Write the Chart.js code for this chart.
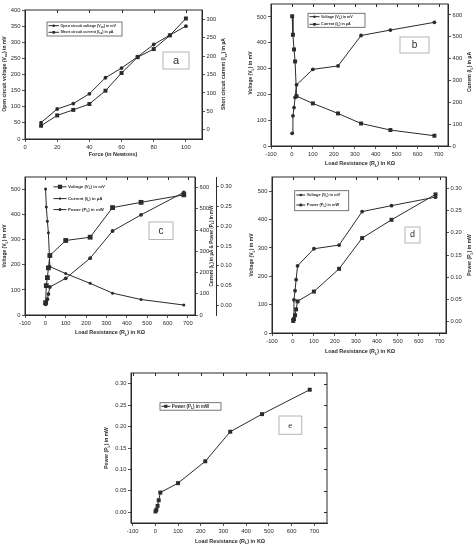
<!DOCTYPE html>
<html>
<head>
<meta charset="utf-8">
<script src="https://cdn.jsdelivr.net/npm/chart.js@4/dist/chart.umd.min.js"></script>
<style>
  html, body { margin: 0; padding: 0; background: #fff; }
  #fig { position: relative; width: 474px; height: 546px; overflow: hidden; background: #fff; }
  #fig canvas { position: absolute; }
</style>
</head>
<body>
<div id="fig"></div>
<script>
/* ---- data ---- */
const FORCE_N = [10, 20, 30, 40, 50, 60, 70, 80, 90, 100];
const VOC_MV = [51, 93, 110, 140, 190, 220, 255, 293, 322, 350];
const ISC_UA = [11, 39, 54, 70, 106, 154, 197, 219, 256, 302];

const LOAD_KOHM = [1, 4.7, 10, 15, 22, 100, 220, 330, 470, 680];
const VL_MV = [49, 117, 149, 188, 237, 297, 310, 428, 449, 479];
const IL_UA = [594, 509, 442, 387, 228, 195, 149, 103, 73, 47];
const PL_MW = [0.002, 0.006, 0.015, 0.028, 0.046, 0.068, 0.119, 0.188, 0.229, 0.286];

/* tick labels */
const FORCE_TICKS = [0, 20, 40, 60, 80, 100];
const VOC_TICKS = [0, 50, 100, 150, 200, 250, 300, 350, 400];
const ISC_TICKS = [0, 50, 100, 150, 200, 250, 300];
const LOAD_TICKS = [-100, 0, 100, 200, 300, 400, 500, 600, 700];
const VL_TICKS = [0, 100, 200, 300, 400, 500];
const IL_TICKS = [0, 100, 200, 300, 400, 500, 600];
const PL_TICKS = [0, 0.05, 0.10, 0.15, 0.20, 0.25, 0.30];

/* ---- helpers ---- */
const INK = '#2b2b2b';
const FONT = '"Liberation Sans", Arial, sans-serif';
const fig = document.getElementById('fig');

const pts = (xs, ys) => xs.map((x, i) => ({ x, y: ys[i] }));

function richParts(s) {
  // "Voltage (V_{L}) in mV" -> plain / subscript pieces
  const out = [];
  const re = /_\{([^}]*)\}/g;
  let last = 0, m;
  while ((m = re.exec(s))) {
    if (m.index > last) out.push({ t: s.slice(last, m.index), sub: false });
    out.push({ t: m[1], sub: true });
    last = re.lastIndex;
  }
  if (last < s.length) out.push({ t: s.slice(last), sub: false });
  return out;
}

function drawRich(ctx, text, x, y, size, o) {
  o = o || {};
  const parts = richParts(text);
  const font = sz => `${o.bold === false ? '' : 'bold '}${sz}px ${o.family || FONT}`;
  let total = 0;
  parts.forEach(p => { ctx.font = font(p.sub ? size * 0.72 : size); p.w = ctx.measureText(p.t).width; total += p.w; });
  ctx.save();
  ctx.translate(x, y);
  ctx.rotate(o.rot || 0);
  ctx.textBaseline = 'middle';
  ctx.textAlign = 'left';
  ctx.fillStyle = INK;
  let cx = o.align === 'left' ? 0 : -total / 2;
  parts.forEach(p => {
    ctx.font = font(p.sub ? size * 0.72 : size);
    ctx.fillText(p.t, cx, p.sub ? size * 0.32 : 0);
    cx += p.w;
  });
  ctx.restore();
}

function drawMark(ctx, style, r, x, y) {
  ctx.fillStyle = INK;
  ctx.beginPath();
  if (style === 'rect') {
    const s = r * Math.SQRT1_2;
    ctx.rect(x - s, y - s, 2 * s, 2 * s);
  } else {
    ctx.arc(x, y, r, 0, Math.PI * 2);
  }
  ctx.fill();
}

function axis(pos, min, max, ticks, size, extra) {
  extra = extra || {};
  return {
    type: 'linear', position: pos, min, max, weight: extra.weight || 0,
    afterBuildTicks: s => { s.ticks = ticks.map(v => ({ value: v })); },
    afterFit: s => {
      if (pos === 'bottom') s.height = size; else s.width = size;
      s.paddingTop = 0; s.paddingBottom = 0; s.paddingLeft = 0; s.paddingRight = 0;
    },
    grid: { display: true, drawOnChartArea: false, drawTicks: true, tickLength: 3, color: INK, lineWidth: 0.8 },
    border: { display: true, color: INK, width: 1 },
    ticks: {
      font: { family: FONT, size: extra.font || 5.8 }, color: INK, padding: 1.5,
      autoSkip: false, maxRotation: 0,
      callback: extra.fmt || (v => String(v)),
    },
    title: { display: false },
  };
}

function series(xs, ys, axisId, style, r) {
  return {
    data: pts(xs, ys), yAxisID: axisId, xAxisID: 'x',
    borderColor: INK, backgroundColor: INK, borderWidth: 1,
    pointStyle: style, pointRadius: r, pointBorderWidth: 0, pointBackgroundColor: INK,
    tension: 0, clip: false,
  };
}

// border, mirrored ticks, titles, legend and the panel letter
function decor(p) {
  return {
    id: 'decor_' + p.id,
    afterDraw(chart) {
      const ctx = chart.ctx;
      const a = chart.chartArea;
      const ox = p.box.x, oy = p.box.y;
      ctx.save();
      ctx.strokeStyle = INK;
      ctx.lineWidth = 1;
      ctx.strokeRect(a.left, a.top, a.right - a.left, a.bottom - a.top);
      // mirrored major ticks on the top edge
      const xs = chart.scales.x;
      xs.ticks.forEach(t => {
        const px = Math.round(xs.getPixelForValue(t.value)) + 0.5;
        ctx.beginPath(); ctx.moveTo(px, a.top); ctx.lineTo(px, a.top + 3); ctx.stroke();
      });
      if (p.mirrorY) {
        const ys = chart.scales[p.mirrorY];
        ys.ticks.forEach(t => {
          const py = Math.round(ys.getPixelForValue(t.value)) + 0.5;
          ctx.beginPath(); ctx.moveTo(a.right, py); ctx.lineTo(a.right - 3, py); ctx.stroke();
        });
      }
      (p.titles || []).forEach(t => drawRich(ctx, t.text, t.x - ox, t.y - oy, t.size || 5.4, { rot: t.rot }));
      const lg = p.legend;
      if (lg) {
        if (lg.box) {
          ctx.strokeStyle = '#555'; ctx.lineWidth = 0.8;
          ctx.strokeRect(lg.box[0] - ox, lg.box[1] - oy, lg.box[2], lg.box[3]);
        }
        lg.rows.forEach(r => {
          const y = r.y - oy, x0 = lg.x - ox, x1 = x0 + lg.len;
          ctx.strokeStyle = INK; ctx.lineWidth = 1;
          ctx.beginPath(); ctx.moveTo(x0, y); ctx.lineTo(x1, y); ctx.stroke();
          drawMark(ctx, r.style, r.r, (x0 + x1) / 2, y);
          drawRich(ctx, r.text, x1 + 1.5, y, lg.size, { align: 'left' });
        });
      }
      const tg = p.tag;
      if (tg) {
        ctx.strokeStyle = '#b5b5b5'; ctx.lineWidth = 1;
        ctx.strokeRect(tg.box[0] - ox, tg.box[1] - oy, tg.box[2], tg.box[3]);
        ctx.fillStyle = INK;
        ctx.font = `${tg.size}px ${tg.family || FONT}`;
        ctx.textAlign = 'center'; ctx.textBaseline = 'middle';
        ctx.fillText(tg.text, tg.box[0] - ox + tg.box[2] / 2, tg.box[1] - oy + tg.box[3] / 2);
      }
      ctx.restore();
    },
  };
}

function makePanel(p) {
  const cv = document.createElement('canvas');
  cv.width = p.box.w; cv.height = p.box.h;
  cv.style.left = p.box.x + 'px'; cv.style.top = p.box.y + 'px';
  cv.style.width = p.box.w + 'px'; cv.style.height = p.box.h + 'px';
  fig.appendChild(cv);
  return new Chart(cv, {
    type: 'line',
    data: { datasets: p.datasets },
    options: {
      responsive: false, animation: false, devicePixelRatio: 1,
      layout: { padding: { top: p.area.t - p.box.y, left: 0, bottom: 0, right: p.padRight || 0 } },
      plugins: { legend: { display: false }, tooltip: { enabled: false } },
      scales: p.scales,
    },
    plugins: [decor(p)],
  });
}

const kfmt = v => v.toFixed(2);
const LOAD_TITLE = 'Load Resistance (R_{L}) in KΩ';

/* ---- panel a ---- */
(function () {
  const box = { x: 0, y: 0, w: 237, h: 170 };
  const area = { l: 25, t: 10, r: 202, b: 139 };
  makePanel({
    id: 'a', box, area,
    datasets: [
      series(FORCE_N, VOC_MV, 'yV', 'circle', 1.9),
      series(FORCE_N, ISC_UA, 'yI', 'rect', 2.8),
    ],
    scales: {
      x: axis('bottom', 0, 110, FORCE_TICKS, box.y + box.h - area.b),
      yV: axis('left', 0, 400, VOC_TICKS, area.l - box.x),
      yI: axis('right', -25, 325, ISC_TICKS, box.x + box.w - area.r),
    },
    titles: [
      { text: 'Force (in Newtons)', x: 113, y: 155 },
      { text: 'Open circuit voltage (V_{oc}) in mV', x: 4.5, y: 74, rot: -Math.PI / 2, size: 5 },
      { text: 'Short circuit current (I_{sc}) in µA', x: 224, y: 74, rot: -Math.PI / 2, size: 5 },
    ],
    legend: {
      box: [47, 22, 75, 14], x: 48.5, len: 10.5, size: 3.7,
      rows: [
        { text: 'Open circuit voltage (V_{oc}) in mV', style: 'circle', r: 1.3, y: 25.7 },
        { text: 'Short circuit current (I_{sc}) in µA', style: 'rect', r: 1.9, y: 32.3 },
      ],
    },
    tag: { text: 'a', box: [163, 52, 26, 17], size: 11 },
  });
})();

/* ---- panel b ---- */
(function () {
  const box = { x: 237, y: 0, w: 237, h: 170 };
  const area = { l: 271, t: 1, r: 448, b: 146 };
  makePanel({
    id: 'b', box, area,
    datasets: [
      series(LOAD_KOHM, VL_MV, 'yV', 'circle', 1.9),
      series(LOAD_KOHM, IL_UA, 'yI', 'rect', 2.8),
    ],
    scales: {
      x: axis('bottom', -100, 745, LOAD_TICKS, box.y + box.h - area.b),
      yV: axis('left', 0, 550, VL_TICKS, area.l - box.x),
      yI: axis('right', 0, 650, IL_TICKS, box.x + box.w - area.r),
    },
    titles: [
      { text: LOAD_TITLE, x: 360, y: 164 },
      { text: 'Voltage (V_{L}) in mV', x: 251, y: 73, rot: -Math.PI / 2, size: 5 },
      { text: 'Current (I_{L}) in µA', x: 470, y: 72, rot: -Math.PI / 2, size: 5 },
    ],
    legend: {
      box: [308, 13.3, 57, 14], x: 309.5, len: 10, size: 3.7,
      rows: [
        { text: 'Voltage (V_{L}) in mV', style: 'circle', r: 1.3, y: 16.7 },
        { text: 'Current (I_{L}) in µA', style: 'rect', r: 1.9, y: 24.3 },
      ],
    },
    tag: { text: 'b', box: [400, 37, 29, 16], size: 10 },
  });
})();

/* ---- panel c ---- */
(function () {
  const box = { x: 0, y: 170, w: 246, h: 190 };
  const area = { l: 25, t: 177, r: 195, b: 315 };
  const y3 = 216;
  makePanel({
    id: 'c', box, area,
    datasets: [
      series(LOAD_KOHM, VL_MV, 'yV', 'rect', 3.4),
      series(LOAD_KOHM, IL_UA, 'yI', 'circle', 1.5),
      series(LOAD_KOHM, PL_MW, 'yP', 'circle', 1.9),
    ],
    scales: {
      x: axis('bottom', -100, 735, LOAD_TICKS, box.y + box.h - area.b),
      yV: axis('left', 0, 550, VL_TICKS, area.l - box.x),
      yI: axis('right', 0, 650, IL_TICKS, y3 - area.r, { weight: 0 }),
      yP: axis('right', -0.025, 0.325, PL_TICKS, box.x + box.w - y3, { weight: 1, fmt: kfmt }),
    },
    titles: [
      { text: LOAD_TITLE, x: 110, y: 333 },
      { text: 'Voltage (V_{L}) in mV', x: 5, y: 246, rot: -Math.PI / 2, size: 5 },
      { text: 'Current (I_{L}) in µA & Power (P_{L}) in mW', x: 212, y: 246, rot: -Math.PI / 2, size: 4.6 },
    ],
    legend: {
      x: 53.5, len: 13, size: 4.3,
      rows: [
        { text: 'Voltage (V_{L}) in mV', style: 'rect', r: 3, y: 186.8 },
        { text: 'Current (I_{L}) in µA', style: 'circle', r: 1.2, y: 198.6 },
        { text: 'Power (P_{L}) in mW', style: 'circle', r: 1.5, y: 209.6 },
      ],
    },
    tag: { text: 'c', box: [149, 222, 24, 17.5], size: 10 },
  });
})();

/* ---- panel d ---- */
(function () {
  const box = { x: 246, y: 170, w: 228, h: 190 };
  const area = { l: 272, t: 177, r: 446, b: 333 };
  makePanel({
    id: 'd', box, area,
    datasets: [
      series(LOAD_KOHM, VL_MV, 'yV', 'circle', 1.9),
      series(LOAD_KOHM, PL_MW, 'yP', 'rect', 2.8),
    ],
    scales: {
      x: axis('bottom', -100, 730, LOAD_TICKS, box.y + box.h - area.b),
      yV: axis('left', 0, 550, VL_TICKS, area.l - box.x),
      yP: axis('right', -0.025, 0.325, PL_TICKS, box.x + box.w - area.r, { fmt: kfmt }),
    },
    titles: [
      { text: LOAD_TITLE, x: 360, y: 352 },
      { text: 'Voltage (V_{L}) in mV', x: 252, y: 255, rot: -Math.PI / 2, size: 5 },
      { text: 'Power (P_{L}) in mW', x: 470, y: 255, rot: -Math.PI / 2, size: 5 },
    ],
    legend: {
      box: [294.7, 190.7, 54, 20], x: 296.3, len: 9, size: 3.9,
      rows: [
        { text: 'Voltage (V_{L}) in mV', style: 'circle', r: 1.3, y: 195 },
        { text: 'Power (P_{L}) in mW', style: 'rect', r: 1.9, y: 205 },
      ],
    },
    tag: { text: 'd', box: [405, 227, 15, 16], size: 9 },
  });
})();

/* ---- panel e ---- */
(function () {
  const box = { x: 100, y: 360, w: 260, h: 186 };
  const area = { l: 131, t: 373, r: 327, b: 523 };
  makePanel({
    id: 'e', box, area, padRight: box.x + box.w - area.r, mirrorY: 'yP',
    datasets: [
      series(LOAD_KOHM, PL_MW, 'yP', 'rect', 2.8),
    ],
    scales: {
      x: axis('bottom', -107, 756, LOAD_TICKS, box.y + box.h - area.b),
      yP: axis('left', -0.025, 0.325, PL_TICKS, area.l - box.x, { fmt: kfmt }),
    },
    titles: [
      { text: LOAD_TITLE, x: 230, y: 541.5 },
      { text: 'Power (P_{L}) in mW', x: 107, y: 448, rot: -Math.PI / 2, size: 5 },
    ],
    legend: {
      box: [160, 402.7, 61, 7.5], x: 161.3, len: 9, size: 4.5,
      rows: [
        { text: 'Power (P_{L}) in mW', style: 'rect', r: 2.2, y: 406.3 },
      ],
    },
    tag: { text: 'e', box: [279, 416, 22.7, 18.3], size: 9, family: '"Liberation Serif", serif' },
  });
})();
</script>
</body>
</html>
